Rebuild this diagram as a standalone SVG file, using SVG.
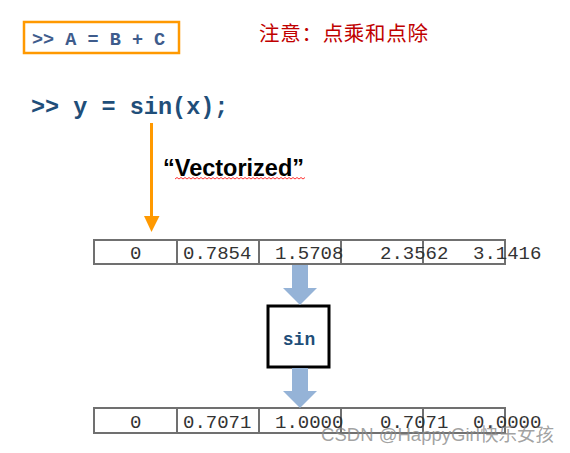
<svg xmlns="http://www.w3.org/2000/svg" width="570" height="453" viewBox="0 0 570 453">
<style>
.mono{font-family:"Liberation Mono","DejaVu Sans Mono",monospace}
.cell{fill:#fff;stroke:#707070;stroke-width:2}
.num{font-family:"Liberation Mono","DejaVu Sans Mono",monospace;font-size:19px;fill:#333}
.barrow{fill:#95B3D7}
</style>
<rect width="570" height="453" fill="#fff"/>
<g id="cmd1">
<rect x="24" y="22" width="155" height="31" fill="#fff" stroke="#FF9900" stroke-width="2.5"/>
<text x="32" y="45" class="mono" font-size="18.5" font-weight="bold" fill="#3E5C8C">&gt;&gt; A = B + C</text>
</g>
<g id="note">
<text x="259" y="41" font-family="'Noto Sans CJK SC',sans-serif" font-size="20.5" fill="#C00000" textLength="169">注意：点乘和点除</text>
</g>
<g id="cmd2">
<text x="31" y="114" class="mono" font-size="23.5" font-weight="bold" fill="#1F4E79">&gt;&gt; y = sin(x);</text>
</g>
<g id="label">
<text x="163" y="176" font-family="'Liberation Sans',Arial,sans-serif" font-size="23.5" font-weight="bold" fill="#000">“Vectorized”</text>
<path d="M175,179 l2,-1.5 l2,1.5 l2,-1.5 l2,1.5 l2,-1.5 l2,1.5 l2,-1.5 l2,1.5 l2,-1.5 l2,1.5 l2,-1.5 l2,1.5 l2,-1.5 l2,1.5 l2,-1.5 l2,1.5 l2,-1.5 l2,1.5 l2,-1.5 l2,1.5 l2,-1.5 l2,1.5 l2,-1.5 l2,1.5 l2,-1.5 l2,1.5 l2,-1.5 l2,1.5 l2,-1.5 l2,1.5 l2,-1.5 l2,1.5 l2,-1.5 l2,1.5 l2,-1.5 l2,1.5 l2,-1.5 l2,1.5 l2,-1.5 l2,1.5 l2,-1.5 l2,1.5 l2,-1.5 l2,1.5 l2,-1.5 l2,1.5 l2,-1.5 l2,1.5 l2,-1.5 l2,1.5 l2,-1.5 l2,1.5 l2,-1.5 l2,1.5 l2,-1.5 l2,1.5 l2,-1.5 l2,1.5 l2,-1.5 l2,1.5 l2,-1.5 l2,1.5 l2,-1.5 l2,1.5 l2,-1.5" fill="none" stroke="#FF0000" stroke-width="0.8"/>
</g>
<g id="table-x">
<rect class="cell" x="94" y="240" width="83" height="24"/>
<rect class="cell" x="177" y="240" width="82" height="24"/>
<rect class="cell" x="259" y="240" width="82" height="24"/>
<rect class="cell" x="341" y="240" width="82" height="24"/>
<rect class="cell" x="423" y="240" width="82" height="24"/>
<text class="num" x="130" y="259">0</text>
<text class="num" x="183" y="259">0.7854</text>
<text class="num" x="275" y="259">1.5708</text>
<text class="num" x="380" y="259">2.3562</text>
<text class="num" x="473" y="259">3.1416</text>
</g>
<g id="sin-box">
<rect x="268" y="306" width="61" height="61" fill="#fff" stroke="#000" stroke-width="3"/>
<text x="299" y="345" class="mono" font-size="18" font-weight="bold" fill="#1F4E79" text-anchor="middle">sin</text>
</g>
<g id="table-y">
<rect class="cell" x="94" y="408" width="83" height="25"/>
<rect class="cell" x="177" y="408" width="82" height="25"/>
<rect class="cell" x="259" y="408" width="82" height="25"/>
<rect class="cell" x="341" y="408" width="82" height="25"/>
<rect class="cell" x="423" y="408" width="82" height="25"/>
<text class="num" x="130" y="428">0</text>
<text class="num" x="183" y="428">0.7071</text>
<text class="num" x="275" y="428">1.0000</text>
<text class="num" x="380" y="428">0.7071</text>
<text class="num" x="473" y="428">0.0000</text>
</g>
<g id="connectors">
<line x1="151.5" y1="123" x2="151.5" y2="218" stroke="#FF9900" stroke-width="3"/>
<polygon points="144,216 159.5,216 151.5,232" fill="#FF9900"/>
<path class="barrow" d="M292,265 H308 V288 H317 L300,305 L283,288 H292 Z"/>
<path class="barrow" d="M292,368 H308 V391 H317 L300,408 L283,391 H292 Z"/>
</g>
<text x="321" y="441" font-family="'Liberation Sans','Noto Sans CJK SC',sans-serif" font-size="18.5" fill="#8a8a8a" fill-opacity="0.8" textLength="233">CSDN @HappyGirl快乐女孩</text>
</svg>
